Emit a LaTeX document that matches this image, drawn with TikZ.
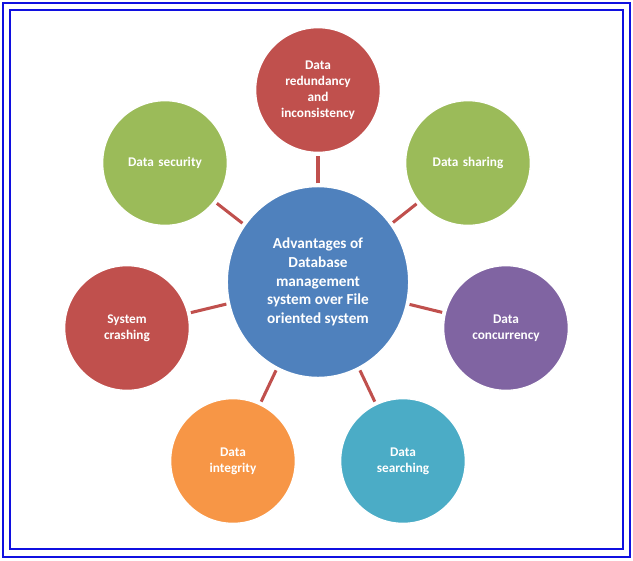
\documentclass[tikz,border=0pt]{standalone}
\usepackage{fontspec}
\setmainfont{Carlito}
\usetikzlibrary{shapes.geometric}
\definecolor{cred}{HTML}{C0504D}
\definecolor{cgreen}{HTML}{9BBB59}
\definecolor{cpurple}{HTML}{8064A2}
\definecolor{cteal}{HTML}{4BACC6}
\definecolor{corange}{HTML}{F79646}
\definecolor{cblue}{HTML}{4F81BD}
\definecolor{frameblue}{HTML}{1010E0}
\tikzset{
  bubble/.style={circle, minimum size=3.3cm, inner sep=2pt, draw=white, line width=1pt,
    text=white, font=\bfseries\fontsize{10}{12}\selectfont, align=center, text width=2.5cm},
  link/.style={draw=cred, line width=2.3pt}
}
\begin{document}
\begin{tikzpicture}[x=0.02646cm, y=-0.02646cm]
	% frame
	\useasboundingbox (0,0) rectangle (633,560);
	\draw[frameblue, line width=1.2pt] (3,3) rectangle (630,557);
	\draw[frameblue, line width=1.2pt] (10,10) rectangle (623,549);
	% hub
	\node[ellipse, fill=cblue, draw=white, line width=1pt, minimum width=4.8cm, minimum height=5.05cm,
	  text=white, font=\bfseries\fontsize{11.5}{14}\selectfont, align=center] (hub) at (318,282)
	  {Advantages of\\ Database\\ management\\ system over File\\ oriented system};
	% outer bubbles
	\node[bubble, fill=cred] (redund) at (318,90) {Data\\ redundancy\\ and\\ inconsistency};
	\node[bubble, fill=cgreen] (sharing) at (468,163) {Data sharing};
	\node[bubble, fill=cpurple] (concur) at (506,328) {Data\\ concurrency};
	\node[bubble, fill=cteal] (search) at (403,461) {Data\\ searching};
	\node[bubble, fill=corange] (integ) at (233,461) {Data\\ integrity};
	\node[bubble, fill=cred] (crash) at (127,328) {System\\ crashing};
	\node[bubble, fill=cgreen] (secur) at (165,163) {Data security};
	% links
	\foreach \n in {redund, sharing, concur, search, integ, crash, secur}
	  \draw[link, shorten <=2pt, shorten >=2pt] (hub) -- (\n);
\end{tikzpicture}
\end{document}
